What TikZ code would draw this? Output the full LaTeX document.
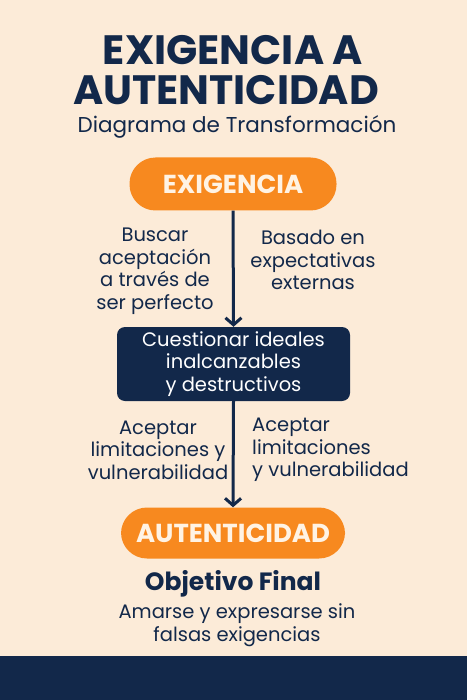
\documentclass[tikz,border=0pt]{standalone}
\usepackage{fontspec}
\setmainfont{Poppins}
\usetikzlibrary{arrows.meta}
\definecolor{bg}{HTML}{FCEBD8}
\definecolor{navy}{HTML}{12284A}
\definecolor{orng}{HTML}{F7891F}
\definecolor{cream}{HTML}{FFF3E4}
\tikzset{
  pill/.style={fill=orng, rounded corners=26pt, text=cream, font=\fontsize{26}{30}\selectfont\bfseries, inner sep=0pt},
  darkbox/.style={fill=navy, rounded corners=8pt, text=white, font=\fontsize{19.5}{22.5}\selectfont, align=center, inner sep=0pt},
  lbl/.style={text=navy, font=\fontsize{19.5}{22.5}\selectfont, inner sep=0pt},
  flow/.style={draw=navy, line width=3pt, -{Straight Barb[length=7pt,width=16pt,line width=3pt]}}
}
\begin{document}
\begin{tikzpicture}[x=1pt,y=-1pt]
\fill[bg] (0,0) rectangle (467,700);
\useasboundingbox (0,0) rectangle (467,700);
\fill[navy] (0,656) rectangle (467,700);
\node[text=navy, font=\fontsize{41}{42}\selectfont\bfseries, align=center] (t1) at (233,50) {EXIGENCIA A};
\node[text=navy, font=\fontsize{41}{42}\selectfont\bfseries, align=center] (t2) at (226,90) {AUTENTICIDAD};
\node[text=navy, font=\fontsize{21.5}{24}\selectfont] (sub) at (237,127) {Diagrama de Transformación};
\node[pill, minimum width=207pt, minimum height=53pt] (ex) at (233,184) {EXIGENCIA};
\node[darkbox, minimum width=233pt, minimum height=74pt] (cq) at (233.5,364) {Cuestionar ideales\\inalcanzables\\y destructivos};
\node[pill, minimum width=224pt, minimum height=51pt] (au) at (233,533) {AUTENTICIDAD};
\draw[flow] (ex.south) -- (cq.north);
\draw[flow] (cq.south) -- (au.north);
\node[lbl, align=center] (l1) at (155,271) {Buscar\\aceptación\\a través de\\ser perfecto};
\node[lbl, align=center] (r1) at (313,260) {Basado en\\expectativas\\externas};
\node[lbl, align=center] (l2) at (158,450) {Aceptar\\limitaciones y\\vulnerabilidad};
\node[lbl, align=left, anchor=west] (r2) at (252,450) {Aceptar\\limitaciones\\y vulnerabilidad};
\node[text=navy, font=\fontsize{25}{28}\selectfont\bfseries] (obj) at (233,584) {Objetivo Final};
\node[lbl, align=center] (am) at (237,625) {Amarse y expresarse sin\\falsas exigencias};
\end{tikzpicture}
\end{document}
